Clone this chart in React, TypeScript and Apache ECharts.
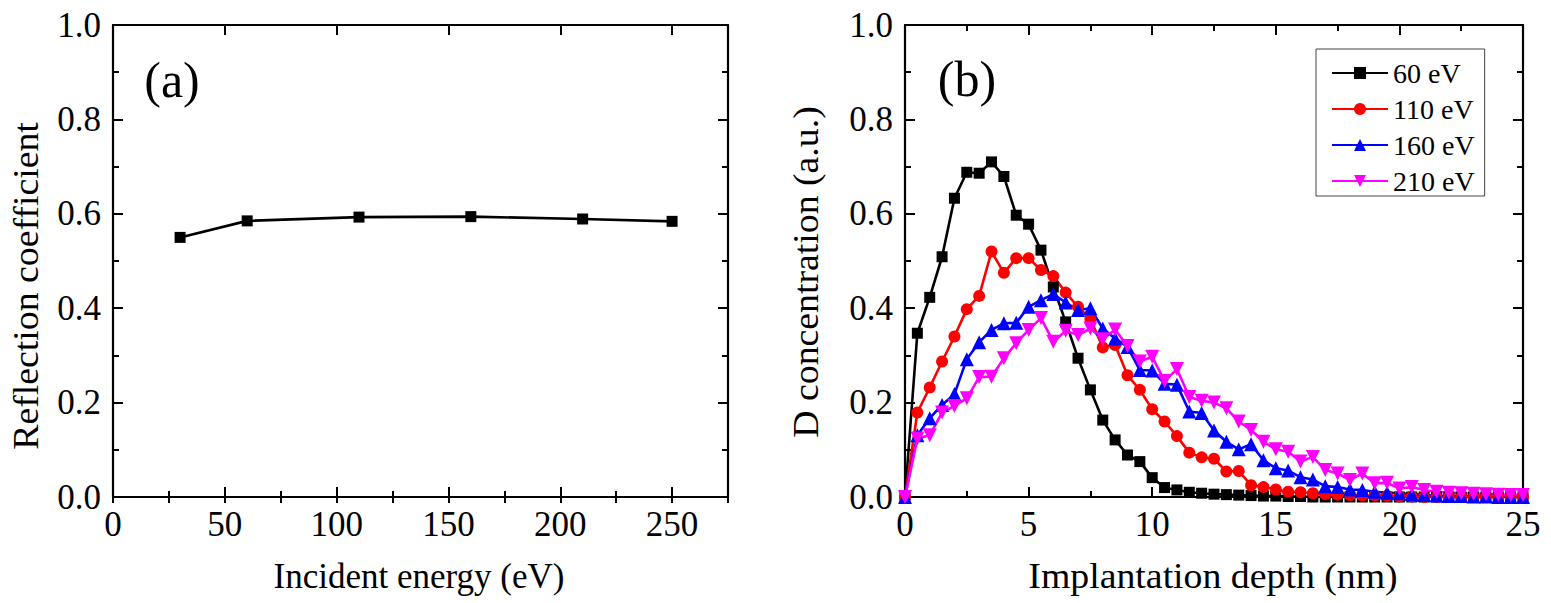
import React, { useEffect, useRef } from "react";
import * as echarts from "echarts";

// ---------- Data ----------
// Panel (a): reflection coefficient vs incident energy
const energies = [30, 60, 110, 160, 210, 250];
const reflection = [0.55, 0.585, 0.593, 0.594, 0.589, 0.584];

// Panel (b): D concentration vs implantation depth (nm)
const depth = [
  0, 0.5, 1, 1.5, 2, 2.5, 3, 3.5, 4, 4.5, 5, 5.5, 6, 6.5, 7, 7.5, 8, 8.5, 9, 9.5,
  10, 10.5, 11, 11.5, 12, 12.5, 13, 13.5, 14, 14.5, 15, 15.5, 16, 16.5, 17, 17.5,
  18, 18.5, 19, 19.5, 20, 20.5, 21, 21.5, 22, 22.5, 23, 23.5, 24, 24.5, 25,
];
const conc60 = [
  0, 0.347, 0.423, 0.509, 0.633, 0.688, 0.686, 0.71, 0.679, 0.597, 0.578, 0.523,
  0.445, 0.371, 0.294, 0.227, 0.163, 0.121, 0.089, 0.075, 0.041, 0.02, 0.015,
  0.01, 0.008, 0.006, 0.005, 0.004, 0.003, 0.002, 0.002, 0.001, 0.001, 0, 0, 0,
  0, 0, 0, 0, 0, 0, 0, 0, 0, 0, 0, 0, 0, 0, 0,
];
const conc110 = [
  0, 0.179, 0.232, 0.287, 0.34, 0.398, 0.426, 0.52, 0.475, 0.506, 0.506, 0.481,
  0.468, 0.433, 0.403, 0.377, 0.317, 0.322, 0.258, 0.227, 0.186, 0.16, 0.129,
  0.094, 0.084, 0.081, 0.054, 0.055, 0.025, 0.021, 0.016, 0.011, 0.01, 0.008,
  0.006, 0.005, 0.004, 0.003, 0.003, 0.002, 0.001, 0.001, 0, 0, 0, 0, 0, 0, 0,
  0, 0,
];
const conc160 = [
  0, 0.131, 0.167, 0.195, 0.218, 0.292, 0.328, 0.354, 0.368, 0.369, 0.403, 0.417,
  0.43, 0.412, 0.396, 0.4, 0.357, 0.336, 0.318, 0.269, 0.268, 0.24, 0.238, 0.181,
  0.178, 0.141, 0.117, 0.101, 0.112, 0.078, 0.061, 0.056, 0.042, 0.037, 0.023,
  0.021, 0.016, 0.015, 0.011, 0.009, 0.008, 0.006, 0.004, 0.003, 0.002, 0.002,
  0.001, 0.001, 0, 0, 0,
];
const conc210 = [
  0, 0.124, 0.131, 0.179, 0.193, 0.209, 0.254, 0.255, 0.294, 0.326, 0.354, 0.379,
  0.329, 0.352, 0.343, 0.357, 0.334, 0.355, 0.32, 0.287, 0.297, 0.246, 0.271,
  0.212, 0.204, 0.2, 0.188, 0.16, 0.142, 0.117, 0.101, 0.096, 0.075, 0.085, 0.057,
  0.05, 0.036, 0.05, 0.029, 0.03, 0.018, 0.021, 0.015, 0.011, 0.009, 0.008, 0.007,
  0.006, 0.005, 0.004, 0.004,
];
const seriesNames = ["60 eV", "110 eV", "160 eV", "210 eV"];

const FONT = "Liberation Serif, Times New Roman, serif";

export default function App() {
  const ref = useRef<HTMLDivElement>(null);

  useEffect(() => {
    if (!ref.current) return;
    const chart = echarts.init(ref.current, undefined, { renderer: "svg" });

    const axisLine = { show: true, onZero: false, lineStyle: { color: "#000", width: 2.2 } };
    const tickMajor = { show: true, inside: true, length: 10, lineStyle: { color: "#000", width: 2 } };
    const tickMinorAsMajor = { show: true, inside: true, length: 6, lineStyle: { color: "#000", width: 2 } };
    const minorTick = { show: true, splitNumber: 2, length: 6, lineStyle: { color: "#000", width: 2 } };
    const label = { fontFamily: FONT, fontSize: 35, color: "#000" };

    const makeX = (grid: number, pos: string, opts: any) => ({
      type: "value",
      gridIndex: grid,
      position: pos,
      splitLine: { show: false },
      minorSplitLine: { show: false },
      ...opts,
    });
    const makeY = (grid: number, pos: string, opts: any) => ({
      type: "value",
      gridIndex: grid,
      position: pos,
      min: 0,
      max: 1,
      interval: 0.2,
      axisLine,
      axisTick: tickMajor,
      minorTick,
      splitLine: { show: false },
      minorSplitLine: { show: false },
      ...opts,
    });

    const xAxis = [
      makeX(0, "bottom", {
        min: 0, max: 275, interval: 50, axisLine, axisTick: tickMajor,
        axisLabel: { ...label, margin: 10, formatter: (v: number) => (v > 250 ? "" : String(v)) },
      }),
      makeX(0, "bottom", {
        min: 0, max: 275, interval: 25, axisLine: { show: false }, axisTick: tickMinorAsMajor,
        axisLabel: { show: false },
      }),
      makeX(0, "top", {
        min: 0, max: 275, interval: 50, axisLine, axisTick: tickMajor, axisLabel: { show: false },
      }),
      makeX(0, "top", {
        min: 0, max: 275, interval: 25, axisLine: { show: false }, axisTick: tickMinorAsMajor,
        axisLabel: { show: false },
      }),
      makeX(1, "bottom", {
        min: 0, max: 25, interval: 5, axisLine, axisTick: tickMajor, minorTick,
        axisLabel: { ...label, margin: 10 },
      }),
      makeX(1, "top", {
        min: 0, max: 25, interval: 5, axisLine, axisTick: tickMajor, minorTick,
        axisLabel: { show: false },
      }),
    ];

    const yAxis = [
      makeY(0, "left", { axisLabel: { ...label, margin: 12, formatter: (v: number) => v.toFixed(1) } }),
      makeY(0, "right", { axisLabel: { show: false } }),
      makeY(1, "left", { axisLabel: { ...label, margin: 12, formatter: (v: number) => v.toFixed(1) } }),
      makeY(1, "right", { axisLabel: { show: false } }),
    ];

    const concs = [conc60, conc110, conc160, conc210];
    const colors = ["#000000", "#ff0000", "#0000ff", "#ff00ff"];
    const symbols = ["rect", "circle", "triangle", "triangle"];
    const sizes = [11, 12, 14, 14];
    const rotates = [0, 0, 0, 180];

    const seriesB = concs.map((vals, i) => ({
      type: "line",
      name: seriesNames[i],
      xAxisIndex: 4,
      yAxisIndex: 2,
      data: depth.map((d, j) => [d, vals[j]]),
      symbol: symbols[i],
      symbolSize: sizes[i],
      symbolRotate: rotates[i],
      showAllSymbol: true,
      color: colors[i],
      itemStyle: { color: colors[i] },
      lineStyle: { color: colors[i], width: 2.6 },
    }));

    const titleStyle = (text: string) => ({
      text,
      fontFamily: FONT,
      fontSize: 35,
      fill: "#000",
      align: "center",
      verticalAlign: "middle",
      textAlign: "center",
      textVerticalAlign: "middle",
    });
    const panelStyle = (text: string) => ({
      ...titleStyle(text),
      fontSize: 50,
    });

    chart.setOption({
      animation: false,
      backgroundColor: "#ffffff",
      grid: [
        { left: 113, top: 25, width: 615, height: 472, containLabel: false },
        { left: 905, top: 25, width: 618, height: 472, containLabel: false },
      ],
      xAxis,
      yAxis,
      legend: {
        data: seriesNames,
        orient: "vertical",
        left: 1316,
        top: 49,
        padding: [10, 10, 1, 15],
        itemWidth: 56,
        itemHeight: 15,
        itemGap: 8,
        borderColor: "#444",
        borderWidth: 1,
        backgroundColor: "#fff",
        textStyle: { fontFamily: FONT, fontSize: 28, color: "#000" },
      },
      series: [
        {
          type: "line",
          name: "reflection",
          xAxisIndex: 0,
          yAxisIndex: 0,
          data: energies.map((e, i) => [e, reflection[i]]),
          symbol: "rect",
          symbolSize: 11,
          color: "#000",
          itemStyle: { color: "#000" },
          lineStyle: { color: "#000", width: 2.6 },
        },
        ...seriesB,
      ],
      graphic: [
        { type: "text", x: 172, y: 80, style: panelStyle("(a)") },
        { type: "text", x: 967, y: 79, style: panelStyle("(b)") },
        { type: "text", x: 419, y: 576, scaleX: 1.0, style: titleStyle("Incident energy (eV)") },
        { type: "text", x: 1213, y: 576, scaleX: 1.08, style: titleStyle("Implantation depth (nm)") },
        { type: "text", x: 26, y: 286, rotation: Math.PI / 2, scaleX: 1.08, style: titleStyle("Reflection coefficient") },
        { type: "text", x: 806, y: 272, rotation: Math.PI / 2, scaleX: 1.08, style: titleStyle("D concentration (a.u.)") },
      ],
    });

    return () => chart.dispose();
  }, []);

  return (
    <div
      ref={ref}
      style={{ position: "fixed", left: 0, top: 0, width: 1551, height: 603, background: "#fff" }}
    />
  );
}
